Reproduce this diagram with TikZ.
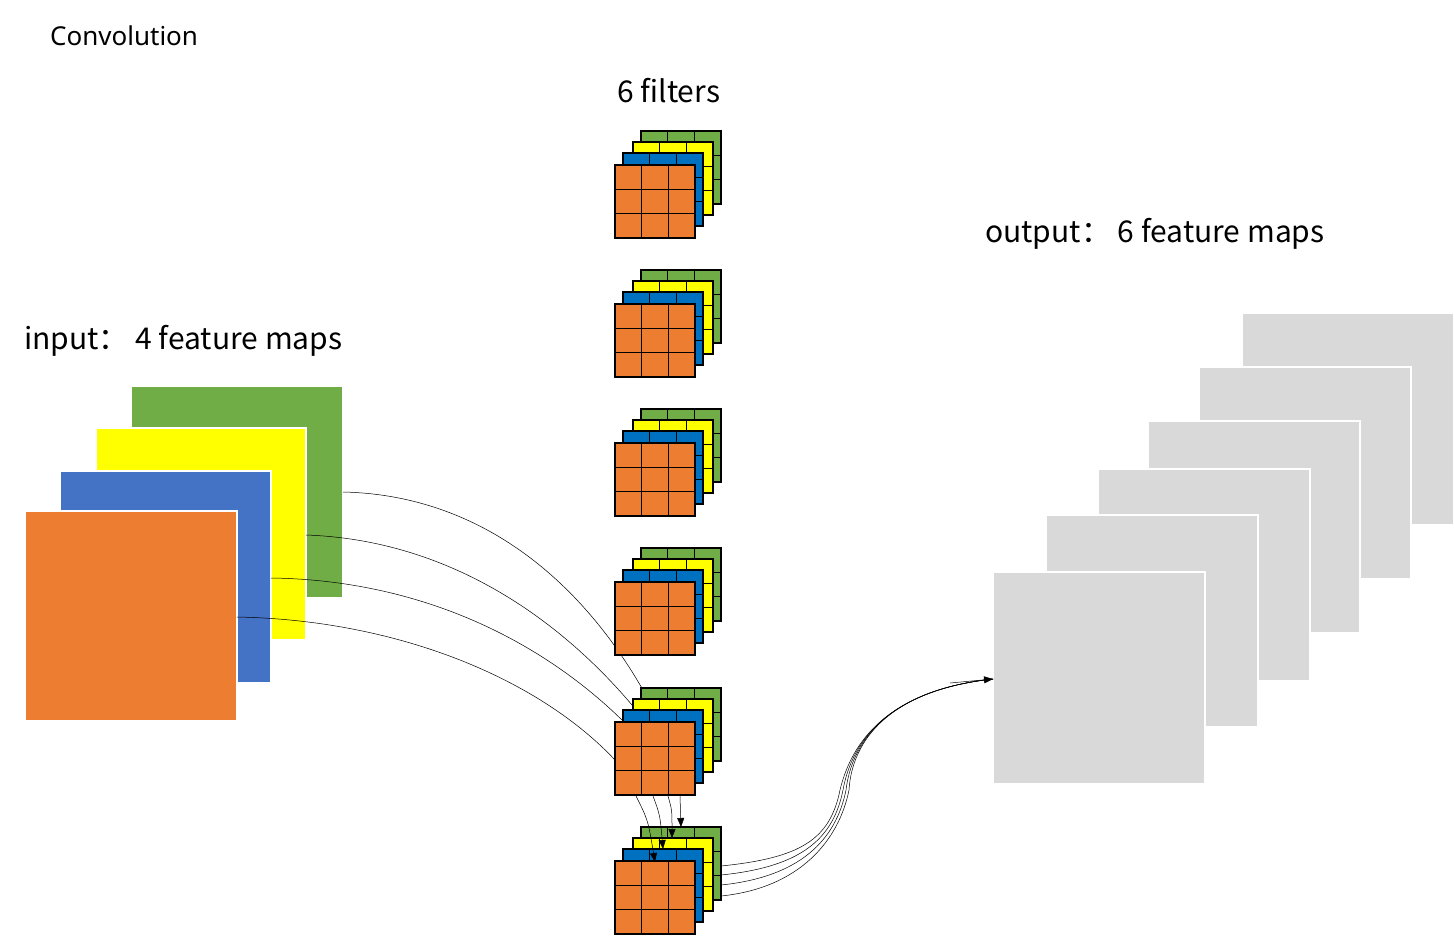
\documentclass[tikz,border=0pt]{standalone}
\usepackage{fontspec}
\setmainfont{Noto Sans CJK SC}
\newfontfamily\boldsans{Noto Sans}
\usetikzlibrary{arrows.meta}
\definecolor{cOr}{HTML}{ED7D31}
\definecolor{cBl}{HTML}{0070C0}
\definecolor{cBl2}{HTML}{4472C4}
\definecolor{cYe}{HTML}{FFFF00}
\definecolor{cGr}{HTML}{70AD47}
\definecolor{cGy}{HTML}{D9D9D9}
\tikzset{
 map/.style={draw=white,line width=1.2pt},
 cell/.style={draw=black,line width=1.6pt},
 conn/.style={draw=black,line width=0.5pt},
 arr/.style={conn,-{Triangle[length=9pt,width=7pt]}},
 lbl/.style={anchor=west,inner sep=0pt,font=\fontsize{30}{30}\selectfont},
}
\newcommand{\grid}[3]{% x y color
 \fill[#3] (#1,#2) rectangle ++(80,73);
 \draw[cell] (#1,#2) rectangle ++(80,73);
 \draw[black,line width=1.2pt] (#1+26.7,#2)--++(0,73) (#1+53.3,#2)--++(0,73) (#1,#2+24.3)--++(80,0) (#1,#2+48.7)--++(80,0);}
\newcommand{\filt}[2]{%
 \grid{#1+26}{#2-34}{cGr}\grid{#1+18}{#2-23}{cYe}\grid{#1+8}{#2-12}{cBl}\grid{#1}{#2}{cOr}}
\begin{document}
\begin{tikzpicture}[x=1pt,y=-1pt]
\useasboundingbox (0,0) rectangle (1454,937);
\node[anchor=west,inner sep=0pt,font=\boldsans\bfseries\fontsize{26}{26}\selectfont] (title) at (50,36) {Convolution};
\node[lbl] (tf) at (617,91) {6 filters};
\node[lbl] (tin) at (24,341) {input：\ 4 feature maps};
\node[lbl] (tout) at (985,234) {output：\ 6 feature maps};
% input maps
\fill[cGr,map] (131,386) rectangle (343,598);
\fill[cYe,map] (96,428) rectangle (306,640);
\fill[cBl2,map] (60,471) rectangle (271,683);
\fill[cOr,map] (25,511) rectangle (237,721);
% output maps
\foreach \x/\y in {1242/313,1199/367,1148/421,1098/469,1046/515,993/572}
 \fill[cGy,map] (\x,\y) rectangle ++(212,212);
\coordinate (o) at (993,679);
% curves input -> filter 5
\coordinate (g) at (343,492); \coordinate (y) at (306,535);
\coordinate (b) at (271,578); \coordinate (r) at (237,617);
\draw[conn] (g) .. controls (480,495) and (580,580) .. (643,690);
\draw[conn] (y) .. controls (450,540) and (560,620) .. (632,705);
\draw[conn] (b) .. controls (420,580) and (540,640) .. (622,720);
\draw[conn] (r) .. controls (400,620) and (540,680) .. (615,760);
% filters
\foreach \yy in {165,304,443,582,722,861} { \filt{615}{\yy} }
% arrows filter5 -> filter6
\draw[arr] (636,796) .. controls (648,820) .. (655,862);
\draw[arr] (653,796) .. controls (660,815) .. (663,849);
\draw[arr] (668,796) .. controls (672,810) .. (672,838);
\draw[arr] (680,796) -- (681,827);
% filter 6 -> output
\foreach \yy/\d in {866/0,875/3,885/6,896/9}
 \draw[conn] (721,\yy) .. controls (800,\yy-8) and (830+\d,840) .. (840+\d,790) .. controls (852,740) and (890,690) .. (o);
\draw[arr] (950,683) -- (o);
\end{tikzpicture}
\end{document}
